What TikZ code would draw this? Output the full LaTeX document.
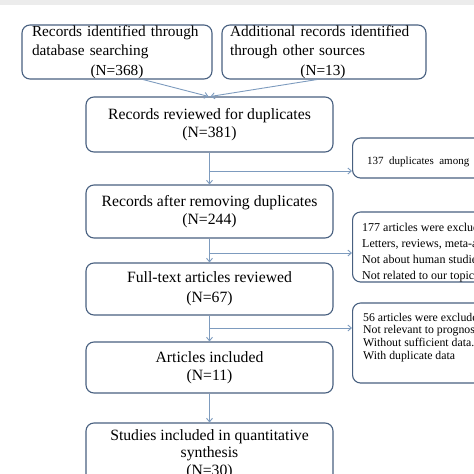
\documentclass[tikz,border=0pt]{standalone}
\usepackage{fontspec}
\setmainfont{Liberation Serif}
\usetikzlibrary{arrows.meta}
\definecolor{boxline}{RGB}{72,96,128}
\definecolor{arrline}{RGB}{125,155,190}
\definecolor{topband}{RGB}{236,236,236}
\begin{document}
\begin{tikzpicture}[x=1pt,y=-1pt,
  mainbox/.style={draw=boxline,line width=1.1pt,rounded corners=8pt,inner sep=0pt,
    minimum width=247pt,align=center,font=\fontsize{15.7}{18.5}\selectfont},
  topbox/.style={draw=boxline,line width=1.1pt,rounded corners=8pt,inner sep=0pt,
    minimum height=54pt,align=left,font=\fontsize{15.3}{19.5}\selectfont},
  sidebox/.style={draw=boxline,line width=1.1pt,rounded corners=8pt,inner sep=0pt,
    anchor=west,minimum width=220pt},
  sidetext/.style={anchor=base west,inner sep=0pt},
  flow/.style={draw=arrline,line width=0.9pt,-{Straight Barb[length=3.5pt,width=6pt]}}]
\useasboundingbox (0,0) rectangle (474,474);
\clip (0,0) rectangle (474,474);
\fill[topband] (0,0) rectangle (474,4.5);
% top boxes
\node[topbox,minimum width=190pt,text width=170pt] (b1) at (117,52)
  {Records identified through\\database searching\\\makebox[170pt]{(N=368)}};
\node[topbox,minimum width=204pt,text width=188pt] (b2) at (324,52)
  {Additional records identified\\through other sources\\\makebox[186pt]{(N=13)}};
% main column
\node[mainbox,minimum height=55pt,font=\fontsize{15.7}{18}\selectfont] (b3) at (209.5,124.5)
  {Records reviewed for duplicates\\(N=381)};
\node[mainbox,minimum height=53pt,font=\fontsize{15.7}{17.5}\selectfont] (b4) at (209.5,211.5)
  {Records after removing duplicates\\(N=244)};
\node[mainbox,minimum height=52pt,font=\fontsize{15.7}{20}\selectfont] (b5) at (209.5,289)
  {Full-text articles reviewed\\(N=67)};
\node[mainbox,minimum height=51pt,font=\fontsize{15.7}{18}\selectfont] (b6) at (209.5,367.5)
  {Articles included\\(N=11)};
\node[mainbox,minimum height=62pt,font=\fontsize{15.7}{17.5}\selectfont] (b7) at (209.5,454)
  {Studies included in quantitative\\synthesis\\(N=30)};
% side boxes
\node[sidebox,minimum height=40pt] (s1) at (352,158) {};
\node[sidetext,font=\fontsize{11}{15}\selectfont] (t1) at (367,164)
  {137\ \ duplicates\ \ among\ \ the databases};
\node[sidebox,minimum height=70pt] (s2) at (352,247) {};
\node[sidetext,font=\fontsize{12}{16.2}\selectfont] (t2) at (362,231)
  {\begin{tabular}[t]{@{}l@{}}177\ articles\ were\ excluded:\\Letters,\ reviews,\ meta-analyses\\Not\ about\ human\ studies\\Not\ related\ to\ our\ topic\end{tabular}};
\node[sidebox,minimum height=80pt] (s3) at (352,343) {};
\node[sidetext,font=\fontsize{11.8}{12.7}\selectfont] (t3) at (363,321)
  {\begin{tabular}[t]{@{}l@{}}56\ articles\ were\ excluded:\\Not\ relevant\ to\ prognosis\\Without\ sufficient\ data.\\With\ duplicate\ data\end{tabular}};
% connectors
\draw[flow] ([xshift=26pt]b1.south) -- ([xshift=-1pt]b3.north);
\draw[flow] ([xshift=-7pt]b2.south) -- ([xshift=1pt]b3.north);
\draw[flow] (b3) -- (b4);
\draw[flow] (b4) -- (b5);
\draw[flow] (b5) -- (b6);
\draw[flow] (b6) -- (b7);
\coordinate (c1) at (209.5,171);
\coordinate (c2) at (209.5,253);
\coordinate (c3) at (209.5,328);
\draw[flow] (c1) -- (s1.west |- c1);
\draw[flow] (c2) -- (s2.west |- c2);
\draw[flow] (c3) -- (s3.west |- c3);
\end{tikzpicture}
\end{document}
